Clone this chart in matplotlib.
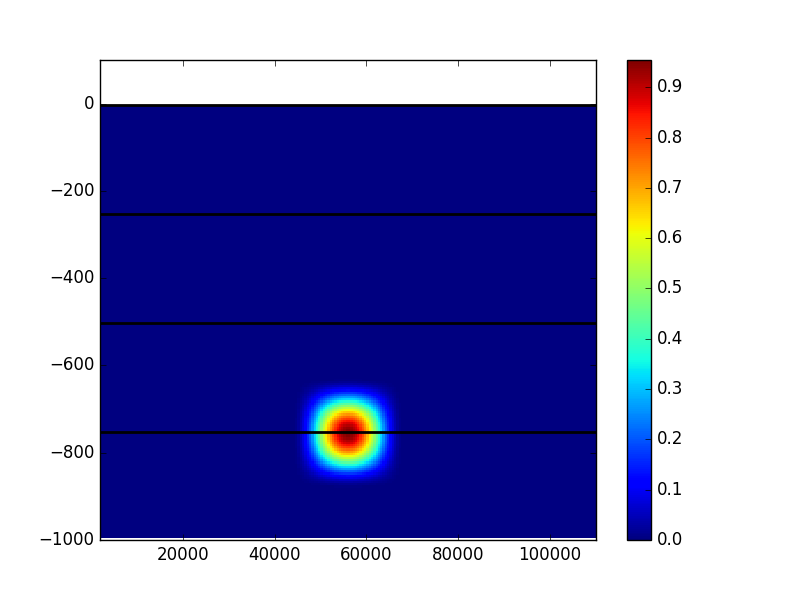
import numpy as np
import matplotlib
matplotlib.use("Agg")
import matplotlib.pyplot as plt

# grid of the field (cell edges)
x_edges = np.arange(2000, 110001, 500)
y_edges = np.arange(-995, -4, 5)

# blob parameters
blob_x = 56000
blob_y = -755
blob_peak = 0.956
blob_rx = 12000
blob_ry = 128

# layer interfaces (black lines)
layer_depths = [-2.5, -252.5, -502.5, -753.0]

xc = 0.5 * (x_edges[1:] + x_edges[:-1])
yc = 0.5 * (y_edges[1:] + y_edges[:-1])
X, Y = np.meshgrid(xc, yc)
fx = np.where(np.abs(X - blob_x) < blob_rx, np.cos(np.pi / 2 * (X - blob_x) / blob_rx) ** 2, 0)
fy = np.where(np.abs(Y - blob_y) < blob_ry, np.cos(np.pi / 2 * (Y - blob_y) / blob_ry) ** 2, 0)
field = blob_peak * fx * fy

plt.style.use('classic')
fig = plt.figure(figsize=(8, 6), dpi=100, facecolor='w')
ax = fig.add_subplot(111)
pc = ax.pcolormesh(x_edges, y_edges, field, cmap='jet', vmin=0, vmax=field.max())
for d in layer_depths:
    ax.axhline(d, color='k', lw=2)
ax.set_xlim(x_edges[0], x_edges[-1])
ax.set_ylim(-1000, 100)
ax.set_xticks([20000, 40000, 60000, 80000, 100000])
ax.set_yticks([-1000, -800, -600, -400, -200, 0])
fig.colorbar(pc, ax=ax, ticks=np.arange(0, 1.0, 0.1))
plt.savefig('out.png', dpi=100, facecolor='w')
